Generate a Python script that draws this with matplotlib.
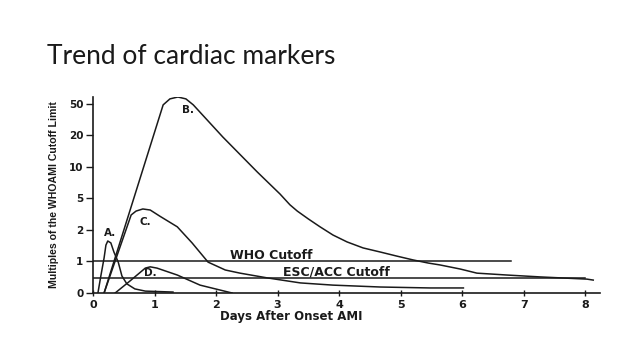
import numpy as np
import matplotlib
matplotlib.use("Agg")
import matplotlib.pyplot as plt
from matplotlib.scale import FuncScale

# y axis of the original is not linear: ticks are evenly spaced
y_ticks = [0, 1, 2, 5, 10, 20, 50]
y_ticks_ext = [0, 1, 2, 5, 10, 20, 50, 80]
x_ticks = [0, 1, 2, 3, 4, 5, 6, 7, 8]

# curves (days, multiples of cutoff)
a_days = [0.08, 0.13, 0.18, 0.21, 0.24, 0.29, 0.34, 0.41, 0.47, 0.55, 0.68,
          0.85, 1.30]
a_vals = [0.0, 0.57, 1.11, 1.52, 1.65, 1.59, 1.30, 0.98, 0.54, 0.29, 0.13,
          0.06, 0.03]

b_days = [0.18, 1.14, 1.25, 1.38, 1.51, 1.63, 2.11, 2.67, 3.04, 3.20, 3.32,
          3.50, 3.69, 3.90, 4.13, 4.39, 4.67, 4.94, 5.20, 5.45, 5.64, 5.97,
          6.24, 6.73, 7.27, 8.03, 8.13]
b_vals = [0.0, 49.1, 54.8, 56.6, 54.8, 49.1, 19.5, 9.2, 5.7, 4.4, 3.8,
          3.05, 2.3, 1.84, 1.62, 1.43, 1.30, 1.17, 1.05, 0.95, 0.89, 0.76,
          0.63, 0.57, 0.51, 0.44, 0.41]

c_days = [0.18, 0.62, 0.70, 0.81, 0.93, 1.09, 1.37, 1.61, 1.87, 2.15, 2.39,
          2.83, 3.37, 3.90, 4.67, 5.48, 6.02]
c_vals = [0.0, 3.43, 3.8, 4.0, 3.9, 3.3, 2.3, 1.59, 0.98, 0.73, 0.63,
          0.48, 0.32, 0.25, 0.19, 0.16, 0.16]

d_days = [0.36, 0.60, 0.85, 0.93, 1.04, 1.37, 1.74, 2.26]
d_vals = [0.0, 0.38, 0.79, 0.83, 0.79, 0.57, 0.25, 0.0]

who_cutoff = 1.0
who_end = 6.8
esc_cutoff = 0.48
esc_end = 8.0


def fwd(v):
    return np.interp(v, y_ticks_ext, np.arange(len(y_ticks_ext)))


def inv(i):
    return np.interp(i, np.arange(len(y_ticks_ext)), y_ticks_ext)


fig = plt.figure(figsize=(6.38, 3.59), dpi=100)
fig.text(47 / 638, 1 - 64 / 359, "Trend of cardiac markers", fontsize=19,
         family="Lato", color="#1a1a1a", va="baseline")

ax = fig.add_axes([93 / 638, 1 - 293 / 359, 507 / 638, 196 / 359])
ax.set_yscale(FuncScale(ax.yaxis, (fwd, inv)))
ax.set_xlim(0, 8.24)
ax.set_ylim(0, 56.6)

col = "#1a1a1a"
lw = 1.1
ax.plot(a_days, a_vals, color=col, lw=lw)
ax.plot(b_days, b_vals, color=col, lw=lw)
ax.plot(c_days, c_vals, color=col, lw=lw)
ax.plot(d_days, d_vals, color=col, lw=lw)
ax.plot([0, who_end], [who_cutoff, who_cutoff], color=col, lw=lw)
ax.plot([0, esc_end], [esc_cutoff, esc_cutoff], color=col, lw=lw)

bold = dict(family="DejaVu Sans", weight="bold", color=col)
ax.text(0.17, 1.8, "A.", fontsize=7.5, **bold)
ax.text(1.45, 41, "B.", fontsize=7.5, **bold)
ax.text(0.75, 2.5, "C.", fontsize=7.5, **bold)
ax.text(0.83, 0.55, "D.", fontsize=7.5, **bold)
ax.text(2.23, 1.08, "WHO Cutoff", fontsize=9, **bold)
ax.text(3.09, 0.56, "ESC/ACC Cutoff", fontsize=9, **bold)

for s in ["top", "right"]:
    ax.spines[s].set_visible(False)
for s in ["left", "bottom"]:
    ax.spines[s].set_linewidth(1.2)
    ax.spines[s].set_color(col)

ax.set_yticks(y_ticks)
ax.set_yticklabels([str(t) for t in y_ticks])
ax.set_xticks(x_ticks)
ax.set_xticklabels([str(t) for t in x_ticks])
ax.tick_params(axis="y", direction="out", length=5, width=1, pad=2,
               labelsize=7.5, colors=col)
ax.tick_params(axis="x", direction="inout", length=4, width=1, pad=3,
               labelsize=8, colors=col)
for lab in ax.get_xticklabels() + ax.get_yticklabels():
    lab.set_fontweight("bold")
    lab.set_family("DejaVu Sans")

ax.set_xlabel("Days After Onset AMI", fontsize=8.5, **bold)
ax.xaxis.set_label_coords((291 - 93) / 507, (293 - 310) / 196)
ax.set_ylabel("Multiples of the WHOAMI Cutoff Limit", fontsize=7.6,
              labelpad=7, family=["Liberation Sans Narrow", "Liberation Sans"],
              weight="bold", color=col)

fig.savefig("out.png", dpi=100)
